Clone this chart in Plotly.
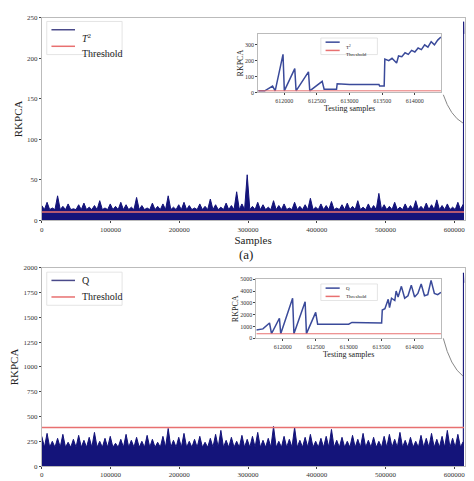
import plotly.graph_objects as go

# main series: sampled peak values across the samples axis
t2_main = [18,22,15,30,17,20,14,19,21,16,18,24,15,20,17,22,19,16,28,18,15,21,17,20,30,16,19,22,18,15,20,17,26,19,16,21,18,35,20,56,17,22,19,16,24,18,20,15,22,17,19,27,16,20,18,23,15,19,21,17,24,16,20,18,33,19,17,22,16,20,18,24,17,21,19,25,18,20,16,22]
q_main = [300,330,250,280,320,240,270,310,260,290,340,250,280,300,230,270,320,260,290,250,310,270,240,300,380,260,290,330,250,270,300,240,280,320,360,260,290,250,310,270,300,340,260,280,400,250,300,270,390,260,290,320,250,280,300,370,260,290,250,310,270,330,260,290,250,300,320,270,340,260,290,250,310,280,330,270,300,360,280,320]
t2_floor = 13
q_floor = 190
t2_fault_y = [20, 240, 60, 245, 100, 230]
q_fault_y = [250, 1950, 800, 1900, 1200, 1850]

# inset data (key points)
t2_in_x = [611600,611700,611820,611850,611860,611980,611990,612000,612160,612170,612180,612370,612380,612390,612580,612600,612610,612800,612810,613000,613100,613450,613460,613530,613540,613600,613650,613700,613720,613750,613800,613850,613900,613950,614000,614050,614100,614150,614200,614250,614300,614350,614400]
t2_in_y = [10,10,40,10,10,240,10,10,150,10,10,130,10,10,70,20,20,20,55,50,50,50,40,40,210,200,215,195,185,230,225,250,240,265,255,280,270,300,285,320,300,330,350]
q_in_x = [611600,611700,611800,611820,611830,611950,611960,611970,612150,612160,612170,612340,612350,612360,612500,612520,612530,613000,613050,613500,613510,613550,613600,613620,613650,613700,613720,613750,613800,613850,613900,613950,614000,614050,614100,614150,614200,614250,614300,614350,614400]
q_in_y = [700,800,1300,400,400,1700,400,400,3400,400,400,3100,400,400,2200,1200,1200,1200,1350,1300,2400,2500,3300,2600,3400,3200,4000,3500,4400,3400,3600,4500,3500,3800,4600,3600,3700,4900,3800,3700,3900]
t2_thr = 10
q_thr = 390
main_ticks = [0,100000,200000,300000,400000,500000,600000]
inset_ticks = [612000,612500,613000,613500,614000]

N = len(t2_main)
step = 613000 / N
def spiky(peaks, floor):
    x, y = [], []
    for i, p in enumerate(peaks):
        x += [i * step, (i + 0.5) * step]
        y += [p, floor]
    return x, y
fx = [613200, 613400, 613600, 613800, 614000, 614300]
tx, ty = spiky(t2_main, t2_floor)
qx, qy = spiky(q_main, q_floor)

NAVY = "#14147a"
RED = "#e87070"
font = dict(family="Liberation Serif", color="#222")

fig = go.Figure()
fig.add_trace(go.Scatter(x=tx + fx, y=ty + t2_fault_y, mode="lines", line=dict(color=NAVY, width=1),
                         fill="tozeroy", fillcolor=NAVY, xaxis="x", yaxis="y"))
fig.add_trace(go.Scatter(x=[0, 614400], y=[t2_thr, t2_thr], mode="lines", line=dict(color=RED, width=1.5), xaxis="x", yaxis="y"))
fig.add_trace(go.Scatter(x=qx + fx, y=qy + q_fault_y, mode="lines", line=dict(color=NAVY, width=1),
                         fill="tozeroy", fillcolor=NAVY, xaxis="x2", yaxis="y2"))
fig.add_trace(go.Scatter(x=[0, 614400], y=[q_thr, q_thr], mode="lines", line=dict(color=RED, width=1.5), xaxis="x2", yaxis="y2"))
fig.add_trace(go.Scatter(x=t2_in_x, y=t2_in_y, mode="lines", line=dict(color="#3a4a9a", width=1.5), xaxis="x3", yaxis="y3"))
fig.add_trace(go.Scatter(x=[611600, 614400], y=[t2_thr, t2_thr], mode="lines", line=dict(color=RED, width=1), xaxis="x3", yaxis="y3"))
fig.add_trace(go.Scatter(x=q_in_x, y=q_in_y, mode="lines", line=dict(color="#3a4a9a", width=1.5), xaxis="x4", yaxis="y4"))
fig.add_trace(go.Scatter(x=[611600, 614400], y=[q_thr, q_thr], mode="lines", line=dict(color=RED, width=1), xaxis="x4", yaxis="y4"))

ax = dict(showgrid=False, zeroline=False, showline=True, linecolor="#bbb", mirror=True, ticks="outside",
          ticklen=2, tickfont=dict(size=7, family="Liberation Serif", color="#333"))
main_x = dict(ax, range=[0, 615000], tickvals=main_ticks, ticktext=[str(v) for v in main_ticks])
in_x = dict(ax, range=[611600, 614400], tickvals=inset_ticks, ticktext=[str(v) for v in inset_ticks],
            tickfont=dict(size=6, family="Liberation Serif", color="#333"))
in_yfont = dict(size=6, family="Liberation Serif", color="#333")

fig.update_layout(
    width=474, height=481, margin=dict(l=0, r=0, t=0, b=0), paper_bgcolor="white", plot_bgcolor="white",
    font=font, showlegend=False,
    xaxis=dict(main_x, domain=[0.0675, 0.965], anchor="y",
               title=dict(text="Samples", font=dict(size=11), standoff=0)),
    yaxis=dict(ax, domain=[0.56, 0.988], anchor="x", range=[0, 250], tickvals=[0,50,100,150,200,250],
               title=dict(text="RKPCA", font=dict(size=11), standoff=2)),
    xaxis2=dict(main_x, domain=[0.0675, 0.965], anchor="y2"),
    yaxis2=dict(ax, domain=[0.04, 0.459], anchor="x2", range=[0, 2000], tickvals=[0,250,500,750,1000,1250,1500,1750,2000],
                title=dict(text="RKPCA", font=dict(size=11), standoff=2)),
    xaxis3=dict(in_x, domain=[0.527, 0.915], anchor="y3",
                title=dict(text="Testing samples", font=dict(size=8), standoff=0)),
    yaxis3=dict(ax, domain=[0.83, 0.954], anchor="x3", range=[0, 370], tickvals=[0,100,200,300],
                tickfont=in_yfont, title=dict(text="RKPCA", font=dict(size=8), standoff=0)),
    xaxis4=dict(in_x, domain=[0.523, 0.915], anchor="y4",
                title=dict(text="Testing samples", font=dict(size=8), standoff=0)),
    yaxis4=dict(ax, domain=[0.31, 0.435], anchor="x4", range=[0, 5000], tickvals=[0,1000,2000,3000,4000,5000],
                tickfont=in_yfont, title=dict(text="RKPCA", font=dict(size=8), standoff=0)),
)

def legend(x0, y0, w, h, items, size, lw):
    fig.add_shape(type="rect", xref="paper", yref="paper", x0=x0, x1=x0 + w, y0=y0 - h, y1=y0,
                  line=dict(color="#ddd", width=0.8), fillcolor="white")
    for i, (txt, col) in enumerate(items):
        yy = y0 - h * (i + 0.5) / len(items)
        fig.add_shape(type="line", xref="paper", yref="paper", x0=x0 + 0.01, x1=x0 + 0.01 + lw, y0=yy, y1=yy,
                      line=dict(color=col, width=1.5))
        fig.add_annotation(xref="paper", yref="paper", x=x0 + 0.02 + lw, y=yy, text=txt, showarrow=False,
                           xanchor="left", font=dict(size=size, color="#222"))

legend(0.078, 0.98, 0.16, 0.07, [("<i>T</i><sup>2</sup>", "#4a4a8a"), ("Threshold", RED)], 10, 0.05)
legend(0.078, 0.45, 0.16, 0.07, [("Q", "#4a4a8a"), ("Threshold", RED)], 10, 0.05)
legend(0.66, 0.945, 0.12, 0.035, [("T<sup>2</sup>", "#3a4a9a"), ("Threshold", RED)], 5, 0.03)
legend(0.66, 0.425, 0.12, 0.035, [("Q", "#3a4a9a"), ("Threshold", RED)], 5, 0.03)

fig.add_shape(type="path", xref="paper", yref="paper", path="M 0.92,0.825 Q 0.935,0.78 0.962,0.765",
              line=dict(color="#888", width=1))
fig.add_shape(type="path", xref="paper", yref="paper", path="M 0.92,0.31 Q 0.935,0.25 0.962,0.23",
              line=dict(color="#888", width=1))

fig.add_annotation(xref="paper", yref="paper", x=0.5, y=0.488, text="(a)", showarrow=False,
                   font=dict(size=13, family="Liberation Serif", color="#222"))

fig.write_html("out.html")
